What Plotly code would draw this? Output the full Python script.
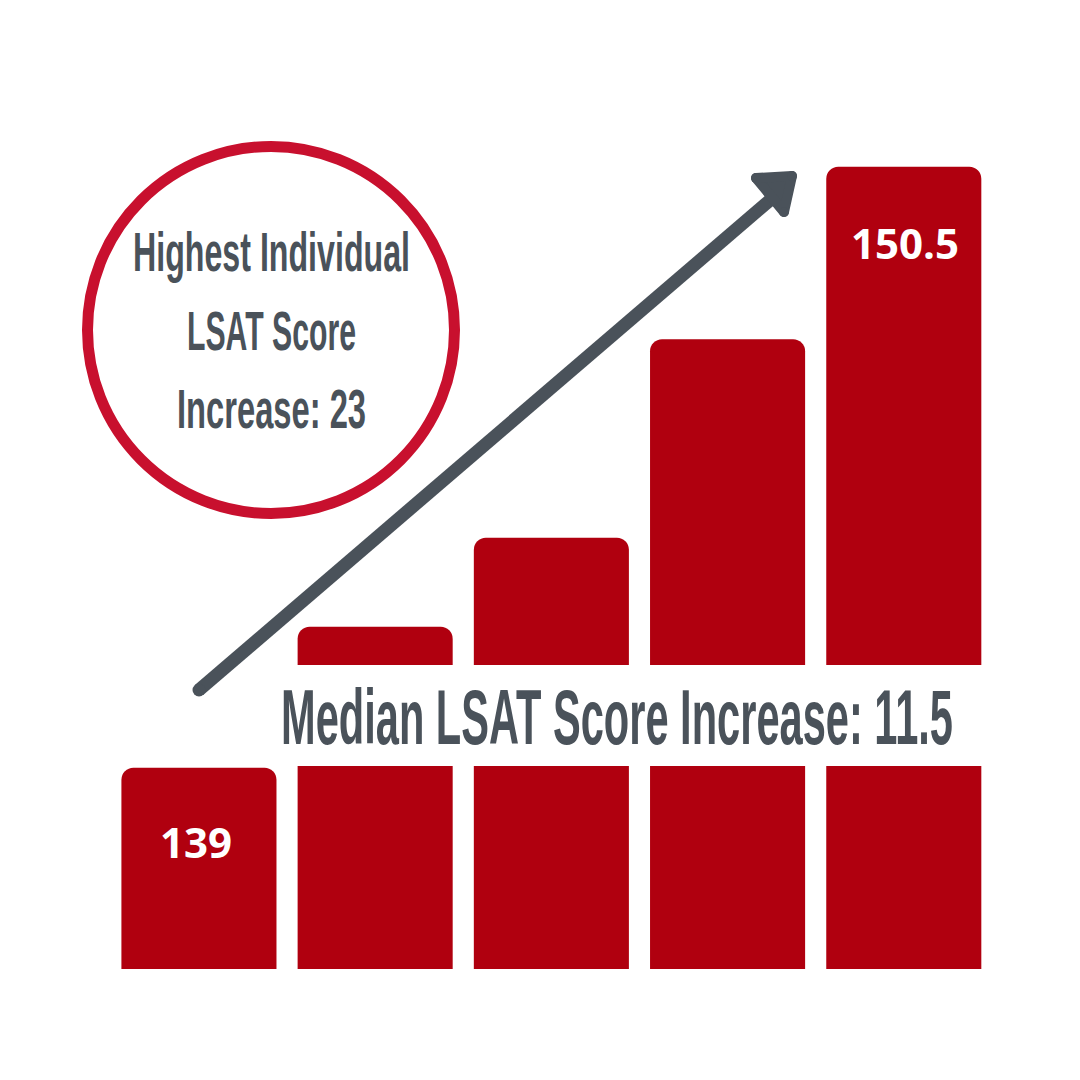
#!/usr/bin/env python3
"""LSAT score increase infographic: rising bars, arrow and callout circle"""

import json

import plotly.graph_objects as go

BAR_RED = '#B0000F'
RING_RED = '#C8102E'
SLATE = '#4A525A'

# Bar tops on an LSAT score scale
bars = [0, 1, 2, 3, 4]
scores = [139, 141.7, 143.4, 147.2, 150.5]
bar_labels = ['139', '', '', '', '150.5']
score_floor = 135.15

# Arrow ends on a 0-1080 overlay
arrow_x = [199, 776]
arrow_y = [390, 885]
head_x = [756, 792, 784, 756]
head_y = [902, 904, 868, 902]

# Condensed headline text: label, centre, font size, drawn width
headlines = [
    ('Highest Individual', 271, 251, 56, 277),
    ('LSAT Score', 271, 330, 56, 169),
    ('Increase: 23', 271, 408, 56, 189),
    ('Median LSAT Score Increase: 11.5', 617, 717, 78, 672),
]

fig = go.Figure()

# Bars start at zero and get cut off by the axis floor, so only the tops are rounded
fig.add_trace(go.Bar(
    x=bars,
    y=scores,
    width=0.88,
    marker=dict(color=BAR_RED, line=dict(width=0)),
    hoverinfo='skip',
))

# Overlay axes for the arrow
fig.add_trace(go.Scatter(
    x=arrow_x, y=arrow_y, xaxis='x2', yaxis='y2',
    mode='lines+markers',
    line=dict(color=SLATE, width=13),
    marker=dict(color=SLATE, size=13),
    hoverinfo='skip',
))
fig.add_trace(go.Scatter(
    x=head_x, y=head_y, xaxis='x2', yaxis='y2',
    mode='lines+markers', fill='toself', fillcolor=SLATE,
    line=dict(color=SLATE, width=10),
    marker=dict(color=SLATE, size=10),
    hoverinfo='skip',
))


def add_text(text, x, y, size, family, color, width=None):
    fig.add_annotation(text=text, x=x / 1080, y=1 - y / 1080,
                       xref='paper', yref='paper', width=width,
                       showarrow=False, xanchor='center', yanchor='middle',
                       font=dict(size=size, family=family, color=color, weight=700))


for text, x, y, size, drawn in headlines:
    add_text(text, x, y, size, 'Liberation Sans, sans-serif', SLATE, width=drawn + 20)

add_text(bar_labels[0], 196, 841.5, 42, 'Open Sans, sans-serif', 'white')
add_text(bar_labels[4], 905, 243, 42, 'Open Sans, sans-serif', 'white')

fig.update_layout(
    width=1080,
    height=1080,
    margin=dict(l=0, r=0, t=0, b=0),
    showlegend=False,
    plot_bgcolor='white',
    paper_bgcolor='white',
    barcornerradius=12,
    xaxis=dict(range=[-1.129, 5.0], visible=False, fixedrange=True),
    yaxis=dict(range=[score_floor, score_floor + 969 / 52.26],
               domain=[111 / 1080, 1], visible=False, fixedrange=True),
    xaxis2=dict(range=[0, 1080], overlaying='x', visible=False),
    # overlaying takes the domain of y, so the range starts at the same floor
    yaxis2=dict(range=[111, 1080], overlaying='y', visible=False),
    shapes=[
        # white band the median text sits in
        dict(type='rect', xref='paper', yref='paper', layer='above',
             x0=285 / 1080, x1=1000 / 1080, y0=1 - 766 / 1080, y1=1 - 665 / 1080,
             fillcolor='white', line=dict(width=0)),
        # callout ring
        dict(type='circle', xref='paper', yref='paper', layer='above',
             x0=87.5 / 1080, x1=454.5 / 1080, y0=1 - 513.5 / 1080, y1=1 - 146.5 / 1080,
             fillcolor='rgba(0,0,0,0)', line=dict(color=RING_RED, width=11)),
    ],
)

# No condensed font is installed, so squeeze the headlines to their drawn width
widths = json.dumps({h[0]: h[4] for h in headlines})
post_script = """
document.body.style.margin = '0';
var widths = %s;
document.querySelectorAll('.annotation-text').forEach(function (t) {
    var w = widths[t.textContent];
    if (w) {
        t.setAttribute('textLength', w);
        t.setAttribute('lengthAdjust', 'spacingAndGlyphs');
    }
});
document.querySelectorAll('.scatterlayer .js-line').forEach(function (l) {
    l.style.strokeLinejoin = 'round';
});
""" % widths

fig.write_html("out.html", config={'displayModeBar': False}, post_script=post_script)
